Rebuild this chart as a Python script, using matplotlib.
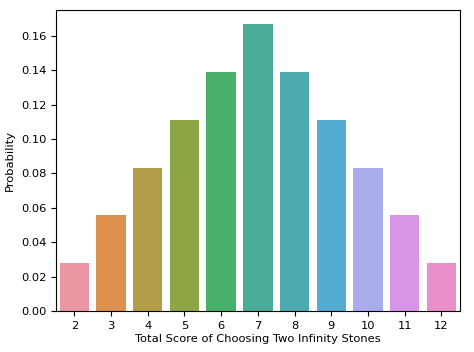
import numpy as np
import matplotlib
matplotlib.use("Agg")
import matplotlib.pyplot as plt
import seaborn as sns

scores = [2, 3, 4, 5, 6, 7, 8, 9, 10, 11, 12]
probs = [0.0278, 0.0556, 0.0833, 0.1111, 0.1389, 0.1667,
         0.1389, 0.1111, 0.0833, 0.0556, 0.0278]


def main():
    fig = plt.figure(figsize=(4.74, 3.52), dpi=100)
    ax = fig.add_axes([0.118, 0.116, 0.852, 0.856])
    colors = sns.husl_palette(len(scores), l=.7)
    colors = [sns.desaturate(c, 0.75) for c in colors]
    ax.bar(np.arange(len(scores)), probs, width=0.8, color=colors)
    ax.set_xticks(np.arange(len(scores)))
    ax.set_xticklabels([str(s) for s in scores])
    ax.set_xlim(-0.5, len(scores) - 0.5)
    ax.set_ylim(0, 0.175)
    ax.set_yticks(np.arange(0, 0.17, 0.02))
    ax.set_yticklabels([f"{v:.2f}" for v in np.arange(0, 0.17, 0.02)])
    ax.tick_params(labelsize=8.25)
    ax.set_xlabel("Total Score of Choosing Two Infinity Stones", fontsize=8.25,
                  labelpad=2)
    ax.set_ylabel("Probability", fontsize=8.25, labelpad=4)
    fig.savefig("out.png", dpi=100)


if __name__ == "__main__":
    main()
